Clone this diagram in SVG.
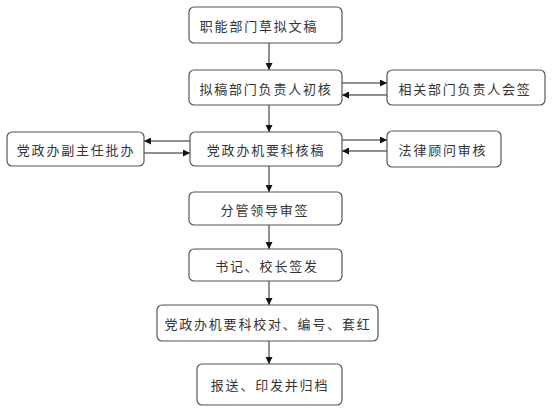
<svg xmlns="http://www.w3.org/2000/svg" width="554" height="415" viewBox="0 0 554 415">
<defs>
<marker id="ah" viewBox="0 0 10 10" refX="10" refY="5" markerWidth="7" markerHeight="7" markerUnits="userSpaceOnUse" orient="auto">
<path d="M0,0 L10,5 L0,10 z" fill="#111"/>
</marker>
<style>
.box{fill:#fff;stroke:#555;stroke-width:1.2}
.t{font-family:"Noto Sans CJK SC","Noto Sans CJK JP",sans-serif;font-size:13px;fill:#333;text-anchor:middle;letter-spacing:1.8px;dominant-baseline:central}
.c{stroke:#222;stroke-width:1;fill:none;marker-end:url(#ah)}
</style>
</defs>
<rect width="554" height="415" fill="#fff"/>
<g id="connectors">
<line class="c" x1="269" y1="43" x2="269" y2="70"/>
<line class="c" x1="269" y1="105" x2="269" y2="132"/>
<line class="c" x1="269" y1="166" x2="269" y2="192"/>
<line class="c" x1="269" y1="225" x2="269" y2="249"/>
<line class="c" x1="269" y1="281" x2="269" y2="305"/>
<line class="c" x1="269" y1="341" x2="269" y2="364"/>
<line class="c" x1="342" y1="83" x2="387" y2="83"/>
<line class="c" x1="387" y1="95" x2="342" y2="95"/>
<line class="c" x1="342" y1="140" x2="387" y2="140"/>
<line class="c" x1="387" y1="151" x2="342" y2="151"/>
<line class="c" x1="190" y1="141" x2="144" y2="141"/>
<line class="c" x1="144" y1="153" x2="190" y2="153"/>
</g>
<g id="n1"><rect class="box" x="189" y="7" width="153" height="36" rx="5"/><text class="t" x="259" y="25">职能部门草拟文稿</text></g>
<g id="n2"><rect class="box" x="189" y="70" width="153" height="35" rx="5"/><text class="t" x="266" y="88">拟稿部门负责人初核</text></g>
<g id="n3"><rect class="box" x="387" y="70" width="158" height="35" rx="5"/><text class="t" x="465" y="88">相关部门负责人会签</text></g>
<g id="n4"><rect class="box" x="190" y="132" width="152" height="34" rx="5"/><text class="t" x="266" y="149">党政办机要科核稿</text></g>
<g id="n5"><rect class="box" x="7" y="132" width="137" height="34" rx="5"/><text class="t" x="76" y="149">党政办副主任批办</text></g>
<g id="n6"><rect class="box" x="387" y="131" width="114" height="36" rx="5"/><text class="t" x="443" y="149">法律顾问审核</text></g>
<g id="n7"><rect class="box" x="189" y="192" width="153" height="33" rx="5"/><text class="t" x="265" y="209">分管领导审签</text></g>
<g id="n8"><rect class="box" x="189" y="249" width="153" height="32" rx="5"/><text class="t" x="267" y="265">书记、校长签发</text></g>
<g id="n9"><rect class="box" x="157" y="305" width="221" height="36" rx="5"/><text class="t" x="268" y="323">党政办机要科校对、编号、套红</text></g>
<g id="n10"><rect class="box" x="197" y="364" width="145" height="41" rx="5"/><text class="t" x="270" y="384">报送、印发并归档</text></g>
</svg>
